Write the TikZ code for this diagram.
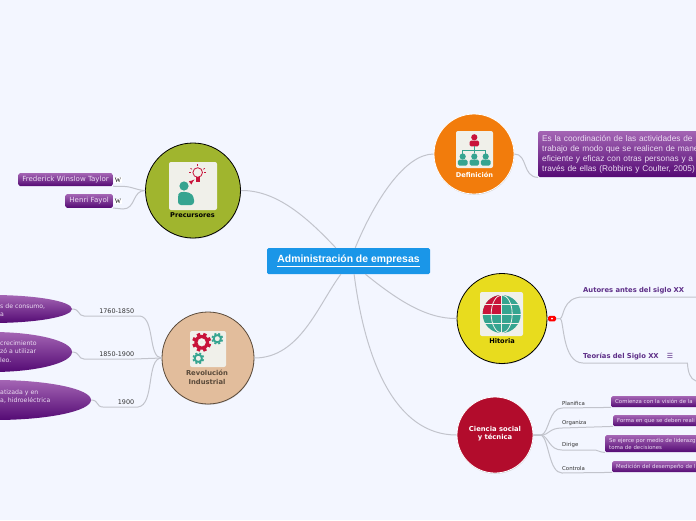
\documentclass[tikz,border=0pt]{standalone}
\usepackage{fontspec}
\setmainfont{DejaVu Sans}
\newfontfamily\arialfont{Liberation Sans}
\newfontfamily\timesfont{Liberation Serif}
\usetikzlibrary{shapes.geometric,shadows}

\definecolor{pagebg}{HTML}{F3F6FF}
\definecolor{linkgrey}{HTML}{C2C4CC}
\definecolor{iconbg}{HTML}{F0F0EA}
\definecolor{iconred}{HTML}{C8133A}
\definecolor{iconteal}{HTML}{35A490}
\definecolor{purplelight}{HTML}{A465B4}
\definecolor{purpledark}{HTML}{540A74}
\definecolor{leaftext}{HTML}{EBDCF2}
\definecolor{purplelabel}{HTML}{5E2F88}

\tikzset{
  link/.style={draw=linkgrey,line width=1pt},
  topic/.style={circle,inner sep=0,line width=0.8pt,minimum size=#1,
    drop shadow={shadow xshift=0.3pt,shadow yshift=-0.8pt,opacity=0.35}},
  topiclabel/.style={font=\bfseries\fontsize{6.6}{8}\selectfont,align=center,inner sep=0},
  leaf/.style={anchor=north west,rounded corners=1.5pt,inner xsep=4pt,inner ysep=1pt,
    align=left,top color=purplelight,bottom color=purpledark,text=leaftext,
    font=\fontsize{#1}{7}\selectfont},
  oval/.style={ellipse,inner sep=0,top color=purplelight,bottom color=purpledark},
  ovaltext/.style={anchor=west,inner sep=0,align=left,text=leaftext,
    font=\fontsize{6.2}{8.4}\selectfont},
  branch/.style={anchor=south west,inner xsep=0,inner ysep=2.5pt,align=right,
    font=\fontsize{6.4}{8}\selectfont,text=black!80},
  step label/.style={anchor=south west,inner xsep=0,inner ysep=2.5pt,align=left,
    font=\fontsize{5.4}{7}\selectfont,text=black!80},
  wikilink/.style={fill=white,inner sep=0.4pt,font=\timesfont\fontsize{6.6}{6.6}\selectfont},
  purplehead/.style={anchor=south west,inner xsep=0,inner ysep=3pt,align=left,
    font=\bfseries\fontsize{6.8}{8}\selectfont,text=purplelabel}
}

\newcommand{\iconback}[4]{
  \fill[iconbg,rounded corners=2pt] (#1,#2) rectangle (#3,#4);
}
\newcommand{\gearicon}[4]{
  \foreach \a in {0,45,...,315}
    \draw[#4,line width=#3*0.36pt] (#1,#2) ++(\a+22.5:#3*0.7) -- ++(\a+22.5:#3*0.3);
  \fill[#4,even odd rule] (#1,#2) circle[radius=#3*0.78] circle[radius=#3*0.45];
}
\newcommand{\personicon}[3]{
  \fill[#3] (#1,#2) circle[radius=3.1];
  \fill[#3,rounded corners=1.5pt] (#1-4.8,#2+9) rectangle (#1+4.8,#2+3.2);
}

\begin{document}
\begin{tikzpicture}[x=1pt,y=-1pt]
  \useasboundingbox (0,0) rectangle (696,520);
  \clip (0,0) rectangle (696,520);
  \fill[pagebg] (0,0) rectangle (696,520);

  \node [fill={rgb,255:red,26;green,150;blue,232},rounded corners=1.5pt,minimum width=163pt,
  minimum height=26pt,inner sep=0,text=white,
  font=\arialfont\bfseries\fontsize{10.4}{12}\selectfont] (root) at (348.5,261)
  {\underline{Administración de empresas}};

  \node [topic=80pt,fill={rgb,255:red,242;green,124;blue,12},draw=white] (def) at (474,154) {};
  \node [topic=90pt,fill={rgb,255:red,232;green,220;blue,30},draw=black] (hist) at (502,318.5) {};
  \node [topic=76pt,fill={rgb,255:red,178;green,12;blue,44},draw=white] (cien) at (495,435) {};
  \node [topic=95pt,fill={rgb,255:red,160;green,181;blue,46},draw=black] (prec) at (193,190.5) {};
  \node [topic=92pt,fill={rgb,255:red,226;green,189;blue,156},draw={rgb,255:red,90;green,74;blue,58}] (rev) at (208,358) {};

  \node [topiclabel,text=white] (deflabel) at (474.5,174.5) {Definición};
  \node [topiclabel] (histlabel) at (502,341.5) {Hitoria};
  \node [topiclabel,text=white,font=\bfseries\fontsize{6.8}{8.2}\selectfont] (cienlabel) at (495,434) {Ciencia social\\ y técnica};
  \node [topiclabel] (preclabel) at (192.5,215.5) {Precursores};
  \node [topiclabel,text={rgb,255:red,90;green,74;blue,58},font=\bfseries\fontsize{6.8}{9}\selectfont] (revlabel) at (207,377) {Revolución\\Industrial};

  \draw [link] (root.134) .. controls (305,215) and (275,190) .. (prec.east);
  \draw [link] (root.240) .. controls (318,305) and (300,358) .. (rev.east);
  \draw [link] (root.63) .. controls (375,200) and (405,154) .. (def.west);
  \draw [link] (root.322) .. controls (395,298) and (425,319) .. (hist.west);
  \draw [link] (root.293) .. controls (365,360) and (395,435) .. (cien.west);

  % definicion
  \node [leaf=8.4,anchor=north west,text width=190pt,inner ysep=1.5pt,minimum height=46pt,
  font=\arialfont\fontsize{8.3}{10.2}\selectfont,inner xsep=4pt] (deftext) at (538,131)
  {Es la coordinación de las actividades de\\trabajo de modo que se realicen de mane\\eficiente y eficaz con otras personas y a\\través de ellas (Robbins y Coulter, 2005)};
  \draw [link] (def.east) .. controls (528,154) and (522,177) .. (deftext.south west);

  % historia
  \node [fill=red,rounded corners=1.5pt,minimum width=8pt,minimum height=5.5pt,inner sep=0] (dot) at (552,318.5) {};
  \fill [white] (dot.center) circle[radius=1];
  \node [purplehead,text width=113pt] (auth) at (583,297) {Autores antes del siglo XX};
  \node [purplehead,text width=104pt] (theo) at (583,363) {Teorías del Siglo XX};
  \node [inner sep=0,font=\fontsize{7}{8}\selectfont,text=purplelabel] (menu) at (670,355.5) {☰};
  \coordinate (theoend) at (696,381);
  \draw [link] (hist.east) -- (dot.west);
  \draw [link] (dot.east) -- ++(4,0) .. controls (564,318) and (562,297) .. (auth.south west) -- (auth.south east);
  \draw [link] (dot.east) -- ++(4,0) .. controls (564,319) and (562,363) .. (theo.south west) -- (theo.south east)
    .. controls (688,372) and (690,379) .. (theoend);

  % ciencia social
  \node [step label,text width=49pt] (plan) at (562,408) {Planifica};
  \node [step label,text width=51pt] (orga) at (562,428) {Organiza};
  \node [step label,text width=33pt] (diri) at (562,450) {Dirige};
  \node [step label,text width=50pt] (cont) at (562,473) {Controla};

  \node [leaf=5.4,text width=100pt,minimum height=11pt] (plantext) at (611,396) {Comienza con la visión de la};
  \node [leaf=5.4,text width=100pt,minimum height=11pt] (orgatext) at (613,415) {Forma en que se deben reali};
  \node [leaf=5.4,text width=100pt,minimum height=17pt] (diritext) at (605,435) {Se ejerce por medio de liderazg\\toma de decisiones};
  \node [leaf=5.4,text width=100pt,minimum height=11pt] (conttext) at (612,461) {Medición del desempeño de l};

  \draw [link] (cien.east) -- ++(8,0) .. controls (549,433) and (549,408) .. (plan.south west) -- (plantext.south west);
  \draw [link] (cien.east) -- ++(8,0) .. controls (549,435) and (549,428) .. (orga.south west) -- (orgatext.south west);
  \draw [link] (cien.east) -- ++(8,0) .. controls (549,437) and (549,450) .. (diri.south west) -- (diri.south east)
    .. controls (598,450) and (598,452) .. (diritext.south west);
  \draw [link] (cien.east) -- ++(8,0) .. controls (549,440) and (549,473) .. (cont.south west) -- (conttext.south west);

  % precursores
  \node [leaf=7.05,inner ysep=3pt,anchor=north east] (taylor) at (113,173) {Frederick Winslow Taylor};
  \node [leaf=7.05,inner ysep=3.4pt,anchor=north east] (fayol) at (113,194) {Henri Fayol};
  \node [wikilink] (taylorw) at (118,180) {W};
  \node [wikilink] (fayolw) at (118,201.5) {W};
  \draw [link] (taylor.south east) -- (125,186.5) .. controls (133,187) and (136,190) .. (prec.west);
  \draw [link] (fayol.south east) -- (123,209) .. controls (136,209) and (132,190.5) .. (prec.west);

  % revolucion
  \node [oval,minimum width=160pt,minimum height=28pt] (ovalone) at (-8,309) {};
  \node [oval,minimum width=160pt,minimum height=40pt] (ovaltwo) at (-8,352) {};
  \node [oval,minimum width=192pt,minimum height=40pt] (ovalthree) at (-5,400) {};
  \node [ovaltext] (ovalonetext) at (0,310) {s de consumo,\\a};
  \node [ovaltext] (ovaltwotext) at (0,351.5) {crecimiento\\zó a utilizar\\leo.};
  \node [ovaltext] (ovalthreetext) at (0,396.5) {atizada y en\\a, hidroeléctrica};

  \node [branch,text width=50pt] (dateone) at (84,316) {1760-1850};
  \node [branch,text width=50pt] (datetwo) at (84,359) {1850-1900};
  \node [branch,text width=31pt] (datethree) at (103,407) {1900};

  \draw [link] (ovalone.east) .. controls (80,309) and (78,316) .. (dateone.south west) -- (dateone.south east)
    -- (140,316) .. controls (155,318) and (148,358) .. (rev.west);
  \draw [link] (ovaltwo.east) .. controls (80,352) and (78,359) .. (datetwo.south west) -- (datetwo.south east) -- (rev.west);
  \draw [link] (ovalthree.east) .. controls (99,400) and (96,407) .. (datethree.south west) -- (datethree.south east)
    -- (138,407) .. controls (155,405) and (146,358) .. (rev.west);

  % iconos
  \iconback{169}{162}{217}{210}
  \fill [iconteal] (184,186) circle[radius=4.6];
  \fill [iconteal,rounded corners=3pt] (178,205) -- (178,197) .. controls (179,191) and (189,191) .. (194,197) -- (194,205) -- cycle;
  \draw [iconred,line width=0.8pt] (197.7,172.5) circle[radius=4.8];
  \fill [iconred] (195.5,177) rectangle (200,182);
  \foreach \a in {-90,-30,-150,0,180}
    \draw [iconred,line width=0.7pt] (197.7,172.5) ++(\a:6.5) -- ++(\a:1.8);
  \draw [iconred,line width=0.9pt,-latex] (190,183) -- (194.5,179.5);

  \iconback{190}{331}{226}{367}
  \gearicon{201.7}{342.3}{9.5}{iconred}
  \draw [white,line width=0.4pt] (201.7,342.3) circle[radius=2.6];
  \gearicon{217.3}{338.7}{5.8}{iconteal}
  \gearicon{198.3}{358.3}{5.8}{iconteal}

  \iconback{456}{131}{493}{168}
  \personicon{474.3}{137.3}{iconred}
  \draw [iconteal,line width=0.6pt] (474.3,146.3) -- (474.3,153) (462.7,153.5) -- (462.7,150) -- (485.7,150) -- (485.7,153.5);
  \foreach \px in {462.7,474.3,485.7} {
    \personicon{\px}{156.5}{iconteal}
  }

  \iconback{480}{292}{523}{336}
  \fill [iconteal] (501.7,314) circle[radius=19];
  \begin{scope}
    \clip (482,295) rectangle (501.7,313.5);
    \fill [iconred] (501.7,314) circle[radius=19];
  \end{scope}
  \draw [iconbg,line width=0.8pt] (501.7,295) -- (501.7,333) (482,314) -- (521,314) (484.5,304.5) -- (519,304.5) (484.5,323.5) -- (519,323.5);
  \draw [iconbg,line width=0.8pt] (501.7,314) ellipse[x radius=10.5,y radius=19];
\end{tikzpicture}
\end{document}
